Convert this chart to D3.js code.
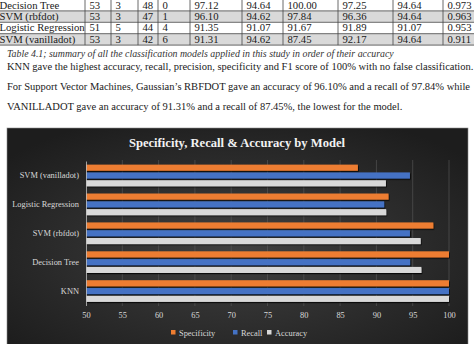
<!DOCTYPE html>
<html>
<head>
<meta charset="utf-8">
<script src="https://cdn.jsdelivr.net/npm/d3@7/dist/d3.min.js"></script>
<style>
  body { margin: 0; background: #fff; }
  svg { display: block; }
</style>
</head>
<body>
<script>
// table rows (top of the page)
const tableModels = ["Decision Tree", "SVM (rbfdot)", "Logistic Regression", "SVM (vanilladot)"];
const tableTP = ["53", "53", "51", "53"];
const tableFN = ["3", "3", "5", "3"];
const tableTN = ["48", "47", "44", "42"];
const tableFP = ["0", "1", "4", "6"];
const tableAcc = ["97.12", "96.10", "91.35", "91.31"];
const tablePrec = ["94.64", "94.62", "91.07", "94.62"];
const tableRec = ["100.00", "97.84", "91.67", "87.45"];
const tableSpec = ["97.25", "96.36", "91.89", "92.17"];
const tableSens = ["94.64", "94.64", "91.07", "94.64"];
const tableF1 = ["0.973", "0.963", "0.953", "0.911"];

const caption = "Table 4.1; summary of all the classification models applied in this study in order of their accuracy";
const paragraph = [
  "KNN gave the highest accuracy, recall, precision, specificity and F1 score of 100% with no false classification.",
  "For Support Vector Machines, Gaussian\u2019s RBFDOT gave an accuracy of 96.10% and a recall of 97.84% while",
  "VANILLADOT gave an accuracy of 91.31% and a recall of 87.45%, the lowest for the model."
];

// chart data
const chartTitle = "Specificity, Recall & Accuracy by Model";
const categories = ["SVM (vanilladot)", "Logistic Regression", "SVM (rbfdot)", "Decision Tree", "KNN"];
const seriesNames = ["Specificity", "Recall", "Accuracy"];
const specificity = [87.45, 91.67, 97.84, 100, 100];
const recall = [94.62, 91.07, 94.62, 94.64, 100];
const accuracy = [91.31, 91.35, 96.10, 96.2, 100];
const xTicks = [50, 55, 60, 65, 70, 75, 80, 85, 90, 95, 100];

const W = 474, H = 344;
const serif = "'Liberation Serif', 'Times New Roman', serif";

const svg = d3.select("body").append("svg")
  .attr("width", W)
  .attr("height", H);

// ---------- table ----------
const colEdges = [-2, 85, 111, 138, 158, 190, 242, 283, 338, 393, 443, 490];
const rowTop = -0.5, rowH = 11.4;
const cols = [tableModels, tableTP, tableFN, tableTN, tableFP, tableAcc, tablePrec, tableRec, tableSpec, tableSens, tableF1];

const table = svg.append("g");
tableModels.forEach((m, r) => {
  const y = rowTop + r * rowH;
  table.append("rect")
    .attr("x", 0).attr("y", y)
    .attr("width", W).attr("height", rowH)
    .attr("fill", r % 2 ? "#d9d9d9" : "#fff");
  cols.forEach((col, c) => {
    table.append("text")
      .attr("x", colEdges[c] + (c === 0 ? 1.5 : 4.5))
      .attr("y", y + rowH - 2.4)
      .attr("font-family", serif)
      .attr("font-size", 10.7)
      .attr("fill", "#1a1a1a")
      .text(col[r]);
  });
});
const tableBottom = rowTop + tableModels.length * rowH;
d3.range(tableModels.length + 1).forEach(r => {
  table.append("line")
    .attr("x1", 0).attr("x2", W)
    .attr("y1", rowTop + r * rowH).attr("y2", rowTop + r * rowH)
    .attr("stroke", "#444").attr("stroke-width", 0.8);
});
colEdges.slice(1, -1).forEach(x => {
  table.append("line")
    .attr("x1", x).attr("x2", x)
    .attr("y1", rowTop).attr("y2", tableBottom)
    .attr("stroke", "#444").attr("stroke-width", 0.8);
});

svg.append("text")
  .attr("x", 7).attr("y", 57)
  .attr("font-family", serif)
  .attr("font-style", "italic")
  .attr("font-size", 9.85)
  .attr("fill", "#333")
  .text(caption);

svg.selectAll("text.para")
  .data(paragraph)
  .enter()
  .append("text")
  .attr("class", "para")
  .attr("x", 7)
  .attr("y", (d, i) => 69.5 + i * 20)
  .attr("font-family", serif)
  .attr("font-size", 10.5)
  .attr("fill", "#1a1a1a")
  .text(d => d);

// ---------- chart ----------
const defs = svg.append("defs");
const grad = defs.append("radialGradient")
  .attr("id", "bg")
  .attr("cx", "50%").attr("cy", "55%").attr("r", "65%");
grad.append("stop").attr("offset", "0%").attr("stop-color", "#404040");
grad.append("stop").attr("offset", "100%").attr("stop-color", "#1d1d1d");

const shadow = defs.append("filter").attr("id", "shadow")
  .attr("x", "-5%").attr("y", "-50%").attr("width", "110%").attr("height", "200%");
shadow.append("feDropShadow")
  .attr("dx", 0.8).attr("dy", 1.2).attr("stdDeviation", 0.6)
  .attr("flood-color", "#000").attr("flood-opacity", 0.8);

const panel = { x: 7, y: 128, w: 461, h: 222 };
svg.append("rect")
  .attr("x", panel.x).attr("y", panel.y)
  .attr("width", panel.w).attr("height", panel.h)
  .attr("fill", "url(#bg)")
  .attr("stroke", "#8a8a8a")
  .attr("stroke-width", 0.6);

svg.append("text")
  .attr("x", 237).attr("y", 146.5)
  .attr("text-anchor", "middle")
  .attr("font-family", serif)
  .attr("font-weight", "bold")
  .attr("font-size", 12.6)
  .attr("fill", "#f2f2f2")
  .text(chartTitle);

const x = d3.scaleLinear().domain([50, 100]).range([86, 449]);
const y = d3.scaleBand().domain(categories).range([161, 305.5])
  .paddingInner(0.25).paddingOuter(0.125);
const ySub = d3.scaleBand().domain(seriesNames).range([0, y.bandwidth()]).paddingInner(0.22);
const colors = d3.scaleOrdinal().domain(seriesNames).range(["#ed7d31", "#4472c4", "#d9d9d9"]);
const seriesValues = [specificity, recall, accuracy];

// gridlines
svg.append("g")
  .selectAll("line")
  .data(xTicks.slice(1))
  .enter()
  .append("line")
  .attr("x1", d => x(d)).attr("x2", d => x(d))
  .attr("y1", 160).attr("y2", 306)
  .attr("stroke", "#5a5a5a")
  .attr("stroke-width", 0.6);

// bars
const rows = categories.map((c, i) => ({ cat: c, vals: seriesNames.map((s, j) => ({ s, v: seriesValues[j][i] })) }));
svg.append("g")
  .selectAll("g")
  .data(rows)
  .enter()
  .append("g")
  .attr("transform", d => `translate(0,${y(d.cat)})`)
  .selectAll("rect")
  .data(d => d.vals)
  .enter()
  .append("rect")
  .attr("x", x(50))
  .attr("y", d => ySub(d.s))
  .attr("width", d => x(d.v) - x(50))
  .attr("height", ySub.bandwidth())
  .attr("fill", d => colors(d.s))
  .attr("filter", "url(#shadow)");

// y axis
const yAxis = svg.append("g")
  .attr("transform", `translate(${x(50)},0)`)
  .call(d3.axisLeft(y).tickSize(0).tickPadding(7));
yAxis.select(".domain").attr("stroke", "#bfbfbf").attr("stroke-width", 0.8);
yAxis.selectAll("text")
  .attr("font-family", serif)
  .attr("font-size", 8.4)
  .attr("fill", "#d9d9d9");

// x axis
const xAxis = svg.append("g")
  .attr("transform", "translate(0,306)")
  .call(d3.axisBottom(x).tickValues(xTicks).tickSize(0).tickPadding(6));
xAxis.select(".domain").remove();
xAxis.selectAll("text")
  .attr("font-family", serif)
  .attr("font-size", 8.4)
  .attr("fill", "#d9d9d9");

// legend
const legendX = [171, 233, 267];
const legend = svg.append("g")
  .selectAll("g")
  .data(seriesNames)
  .enter()
  .append("g")
  .attr("transform", (d, i) => `translate(${legendX[i]},332.5)`);
legend.append("rect")
  .attr("x", 0).attr("y", -2.5)
  .attr("width", 4.5).attr("height", 4.5)
  .attr("fill", d => colors(d));
legend.append("text")
  .attr("x", 8).attr("y", 3)
  .attr("font-family", serif)
  .attr("font-size", 8.4)
  .attr("fill", "#d9d9d9")
  .text(d => d);
</script>
</body>
</html>
